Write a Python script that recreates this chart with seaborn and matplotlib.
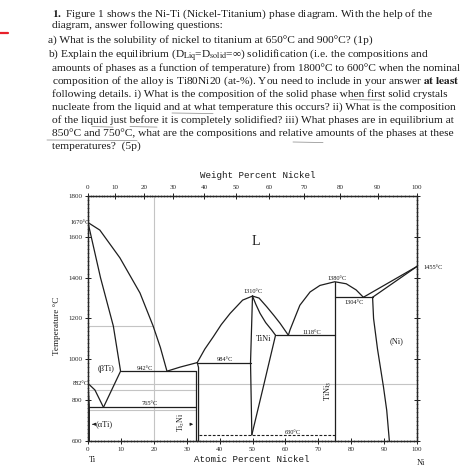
import matplotlib
matplotlib.use('Agg')
import matplotlib.pyplot as plt
from matplotlib.ticker import MultipleLocator, FixedLocator
import seaborn as sns
import pandas as pd
import numpy as np

# ---------------- question text ----------------
QUESTION = [
    r"$\mathbf{1.}$ Figure 1 shows the Ni-Ti (Nickel-Titanium) phase diagram. With the help of the",
    "diagram, answer following questions:",
    "a) What is the solubility of nickel to titanium at 650°C and 900°C? (1p)",
    r"b) Explain the equilibrium (D$_{\mathrm{Liq}}$=D$_{\mathrm{solid}}$=∞) solidification (i.e. the compositions and",
    "amounts of phases as a function of temperature) from 1800°C to 600°C when the nominal",
    r"composition of the alloy is Ti80Ni20 (at-%). You need to include in your answer $\mathbf{at\ least}$",
    "following details. i) What is the composition of the solid phase when first solid crystals",
    "nucleate from the liquid and at what temperature this occurs? ii) What is the composition",
    "of the liquid just before it is completely solidified? iii) What phases are in equilibrium at",
    "850°C and 750°C, what are the compositions and relative amounts of the phases at these",
    "temperatures?  (5p)",
]
Q_LEFT = [52, 52, 48, 48, 52, 52, 52, 52, 52, 52, 52]
Q_BASE = [16.5, 27.5, 43.5, 57.5, 71.5, 83.5, 96.5, 110, 122.5, 136, 149]
# pencil underlines in the text: x0, x1, y (pixels)
UNDERLINES = [(350, 381, 99.5), (172, 213, 113), (92, 113, 126.5), (130, 157, 126.5),
              (47, 137, 140), (293, 323, 142)]

# ---------------- phase boundaries (at-% Ni, temperature C) ----------------
ti_liquidus = [(0, 1670), (3.6, 1633), (9.7, 1497), (15.8, 1325), (19.8, 1163), (22.0, 1058), (24.0, 942)]
beta_solidus = [(0, 1670), (3.8, 1400), (7.7, 1163), (9.9, 942)]
beta_transus = [(0, 882), (2.1, 850), (4.7, 765)]
beta_solvus = [(4.7, 765), (9.9, 942)]
alpha_solvus = [(0, 882), (0.4, 765), (0.4, 600)]
ti2ni_liquidus = [(24.0, 942), (28.0, 962), (33.2, 984)]
tini_liq_left = [(33.2, 984), (35.5, 1050), (38.1, 1111), (40.5, 1170), (43.2, 1225), (47.0, 1290), (50.0, 1310)]
tini_liq_right = [(50.0, 1310), (52.0, 1300), (54.3, 1258), (56.5, 1215), (58.4, 1176), (60.9, 1118)]
tini_solidus = [(50.0, 1310), (51.0, 1270), (52.3, 1225), (54.0, 1180), (55.8, 1144), (57.0, 1118)]
tini_left = [(50.0, 1310), (49.4, 984), (49.8, 630)]
tini_right = [(57.0, 1118), (53.3, 866), (49.8, 630)]
tini3_liquidus = [(60.9, 1118), (61.4, 1144), (63.4, 1225), (64.4, 1265), (67.5, 1330), (70.5, 1362),
                  (75.0, 1380), (78.5, 1370), (81.5, 1340), (83.7, 1304)]
ni_liquidus = [(83.7, 1304), (100, 1455)]
ni_solidus = [(86.5, 1304), (100, 1455)]
ni_solvus = [(86.5, 1304), (86.8, 1200), (88.0, 1050), (89.8, 866), (90.8, 750), (91.6, 600)]
ti2ni_left = [(32.8, 942), (32.8, 600)]
ti2ni_right = [(33.2, 984), (33.6, 960), (33.6, 600)]
tini3_line = [(75.0, 1380), (75.0, 600)]
eutectic_942 = [(9.9, 942), (32.8, 942)]
peritectic_984 = [(33.2, 984), (49.4, 984)]
eutectoid_765 = [(0.4, 765), (32.8, 765)]
eutectic_1118 = [(57.0, 1118), (75.0, 1118)]
eutectic_1304 = [(75.0, 1304), (86.5, 1304)]
eutectoid_630 = [(33.6, 630), (75.0, 630)]

# pencil marks added by the student
mark_ti80 = [(20, 600), (20, 1800)]
mark_1163 = [(0, 1163), (20, 1163)]
mark_880 = [(0, 880), (100, 880)]
mark_850 = [(0, 850), (32.8, 850)]
mark_750 = [(0.4, 750), (32.8, 750)]

SOLID = dict(ti_liquidus=ti_liquidus, beta_solidus=beta_solidus, beta_transus=beta_transus,
             beta_solvus=beta_solvus, alpha_solvus=alpha_solvus, ti2ni_liquidus=ti2ni_liquidus,
             tini_liq_left=tini_liq_left, tini_liq_right=tini_liq_right, tini_solidus=tini_solidus,
             tini_left=tini_left, tini_right=tini_right, tini3_liquidus=tini3_liquidus,
             ni_liquidus=ni_liquidus, ni_solidus=ni_solidus, ni_solvus=ni_solvus,
             ti2ni_left=ti2ni_left, ti2ni_right=ti2ni_right, tini3_line=tini3_line,
             eutectic_942=eutectic_942, peritectic_984=peritectic_984, eutectoid_765=eutectoid_765,
             eutectic_1118=eutectic_1118, eutectic_1304=eutectic_1304)
DASHED = dict(eutectoid_630=eutectoid_630)
MARKS = dict(mark_ti80=mark_ti80, mark_1163=mark_1163, mark_880=mark_880,
             mark_850=mark_850, mark_750=mark_750)

# labels inside the diagram: text, at-% Ni, temperature
temp_labels = [("1310°C", 50.2, 1330), ("1380°C", 75.8, 1394), ("1304°C", 80.9, 1277),
               ("1118°C", 68.0, 1131), ("942°C", 17.3, 957), ("984°C", 41.6, 997),
               ("765°C", 18.8, 783), ("630°C", 62.3, 644)]
phase_labels = [("TiNi", 53.3, 1100), ("(βTi)", 5.5, 951), ("(Ni)", 93.8, 1091)]

WT_TICKS = list(range(0, 101, 10))
AT_TICKS = list(range(0, 101, 10))
T_TICKS = list(range(600, 1801, 200))
M_TI, M_NI = 47.867, 58.693


def wt_to_at(w):
    w = np.asarray(w, dtype=float)
    n_ni = w / M_NI
    n_ti = (100 - w) / M_TI
    return 100 * n_ni / (n_ni + n_ti)


def to_frame(curves):
    rows = []
    for name, pts in curves.items():
        for i, (x, t) in enumerate(pts):
            rows.append({'curve': name, 'order': i, 'at_ni': x, 'temp': t})
    return pd.DataFrame(rows)


sns.set_style('ticks')
SERIF = ['Liberation Serif', 'DejaVu Serif']
MONO = ['Liberation Mono', 'DejaVu Sans Mono']
plt.rcParams.update({'font.family': SERIF, 'mathtext.fontset': 'stix',
                     'axes.linewidth': 0.9, 'text.color': '#1a1a1a'})

W, H = 474, 470
fig = plt.figure(figsize=(W / 100, H / 100), dpi=100)
fig.patch.set_facecolor('white')


def fx(px):
    return px / W


def fy(py):
    return 1 - py / H


# question text
for line, x, y in zip(QUESTION, Q_LEFT, Q_BASE):
    fig.text(fx(x), fy(y), line, fontsize=8.2, family=SERIF, va='baseline', ha='left', color='#1a1a1a')
for x0, x1, y in UNDERLINES:
    fig.add_artist(plt.Line2D([fx(x0), fx(x1)], [fy(y), fy(y + 0.6)], color='#9a9a9a', lw=0.6))
# red margin mark
fig.add_artist(plt.Line2D([fx(0), fx(8)], [fy(33), fy(33)], color='#e8202a', lw=1.6))

# diagram
ax = fig.add_axes([fx(88), fy(441), (417 - 88) / W, (441 - 196) / H])
sns.lineplot(data=to_frame(MARKS), x='at_ni', y='temp', units='curve', estimator=None, sort=False,
             color='#c4c4c4', lw=0.8, ax=ax, legend=False)
sns.lineplot(data=to_frame(SOLID), x='at_ni', y='temp', units='curve', estimator=None, sort=False,
             color='#1e1e1e', lw=0.9, ax=ax, legend=False)
sns.lineplot(data=to_frame(DASHED), x='at_ni', y='temp', units='curve', estimator=None, sort=False,
             color='#1e1e1e', lw=0.8, linestyle=(0, (2.5, 1.5)), ax=ax, legend=False)

ax.set_xlim(0, 100)
ax.set_ylim(600, 1800)
ax.set_xlabel('')
ax.set_ylabel('')
ax.xaxis.set_major_locator(FixedLocator(AT_TICKS))
ax.xaxis.set_minor_locator(MultipleLocator(1))
ax.yaxis.set_major_locator(FixedLocator(T_TICKS))
ax.yaxis.set_minor_locator(MultipleLocator(20))
ax.set_xticklabels([str(v) for v in AT_TICKS])
ax.set_yticklabels([str(v) for v in T_TICKS])
ax.tick_params(which='major', direction='inout', length=5, width=0.7, labelsize=5, pad=1.5,
               right=True, top=False, color='#1e1e1e')
ax.tick_params(which='minor', direction='inout', length=1.8, width=0.4, right=True, top=False,
               color='#3a3a3a')
for s in ax.spines.values():
    s.set_color('#1e1e1e')

ax_top = ax.twiny()
ax_top.set_xlim(0, 100)
ax_top.xaxis.set_major_locator(FixedLocator(wt_to_at(WT_TICKS)))
ax_top.xaxis.set_minor_locator(FixedLocator(wt_to_at(range(0, 101))))
ax_top.set_xticklabels([str(v) for v in WT_TICKS])
ax_top.tick_params(which='major', direction='inout', length=5, width=0.7, labelsize=5, pad=1.5,
                   color='#1e1e1e')
ax_top.tick_params(which='minor', direction='inout', length=1.8, width=0.4, color='#3a3a3a')

for txt, x, t in temp_labels:
    ax.text(x, t, txt, fontsize=4.6, ha='center', va='center', family=SERIF)
for txt, x, t in phase_labels:
    ax.text(x, t, txt, fontsize=6, ha='center', va='center', family=SERIF)
ax.text(51, 1576, "L", fontsize=10, ha='center', va='center', family=SERIF)
ax.text(0.6, 1670, "1670°C", fontsize=4.6, ha='right', va='center', family=SERIF)
ax.text(0.3, 882, "882°C", fontsize=4.6, ha='right', va='center', family=SERIF)
ax.text(102, 1450, "1455°C", fontsize=4.6, ha='left', va='center', family=SERIF, clip_on=False)
ax.text(73.0, 845, "TiNi$_3$", fontsize=6, rotation=90, ha='center', va='center', family=SERIF)
ax.text(28.5, 690, "Ti$_2$Ni", fontsize=5.5, rotation=90, ha='center', va='center', family=SERIF)
ax.annotate('', xy=(32.8, 682), xytext=(30.3, 682),
            arrowprops=dict(arrowstyle='-|>', lw=0.6, color='#1e1e1e', mutation_scale=4))
ax.annotate('', xy=(0.5, 682), xytext=(2.4, 682),
            arrowprops=dict(arrowstyle='-|>', lw=0.6, color='#1e1e1e', mutation_scale=4))
ax.text(2.4, 682, "(αTi)", fontsize=6, ha='left', va='center', family=SERIF)

# axis titles
fig.text(fx(258), fy(175), "Weight Percent Nickel", fontsize=6.6, family=MONO, ha='center', va='center')
fig.text(fx(252), fy(460), "Atomic Percent Nickel", fontsize=6.6, family=MONO, ha='center', va='center')
fig.text(fx(57), fy(326), "Temperature °C", fontsize=6.6, family=SERIF, rotation=90,
         ha='center', va='center')
fig.text(fx(92), fy(460), "Ti", fontsize=6, family=SERIF, ha='center', va='center')
fig.text(fx(421), fy(463), "Ni", fontsize=6, family=SERIF, ha='center', va='center')

fig.savefig('out.png', dpi=100, facecolor='white')
